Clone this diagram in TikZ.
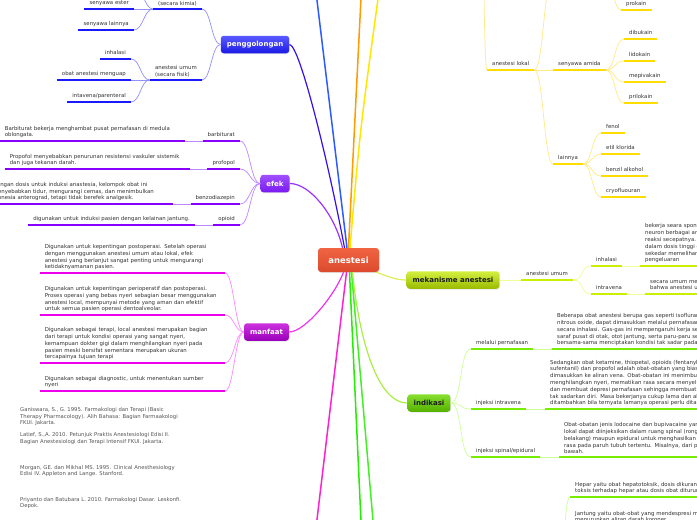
\documentclass[tikz,border=0pt]{standalone}
\usepackage{fontspec}
\setmainfont{DejaVu Sans}
\usepackage{tikz}
\usetikzlibrary{shadows}

\definecolor{txt}{HTML}{333333}
\definecolor{refgray}{HTML}{555555}
\definecolor{dark}{HTML}{1A1A1A}
\definecolor{rootA}{HTML}{F06442}
\definecolor{rootB}{HTML}{DC4A2E}
\definecolor{pgA}{HTML}{5A5AFF}
\definecolor{pgB}{HTML}{1A1AE6}
\definecolor{efA}{HTML}{A050FF}
\definecolor{efB}{HTML}{7A1AF0}
\definecolor{mfA}{HTML}{CC33DD}
\definecolor{mfB}{HTML}{9900BB}
\definecolor{mkA}{HTML}{D4F040}
\definecolor{mkB}{HTML}{99BB00}
\definecolor{inA}{HTML}{88E030}
\definecolor{inB}{HTML}{55B000}
% branch lines
\definecolor{blueUp}{HTML}{2E5BFF}
\definecolor{orangeUp}{HTML}{FF9A00}
\definecolor{yellowUp}{HTML}{FFE800}
\definecolor{pgLine}{HTML}{3311EE}
\definecolor{efLine}{HTML}{9933FF}
\definecolor{mfLine}{HTML}{EE33EE}
\definecolor{magentaDn}{HTML}{FF22CC}
\definecolor{greenDn}{HTML}{22EE00}
\definecolor{indLine}{HTML}{AAEE44}
\definecolor{mekLine}{HTML}{DDEE55}
% underlines and links
\definecolor{pgU}{HTML}{1A1AFF}
\definecolor{pgL}{HTML}{9090FF}
\definecolor{efU}{HTML}{8800FF}
\definecolor{efL}{HTML}{BB88FF}
\definecolor{mfU}{HTML}{EE00EE}
\definecolor{mfL}{HTML}{FF88FF}
\definecolor{ylU}{HTML}{FFDD00}
\definecolor{ylL}{HTML}{FFEB85}
\definecolor{mkU}{HTML}{CCEE00}
\definecolor{mkL}{HTML}{EEFF99}
\definecolor{inU}{HTML}{77EE00}
\definecolor{inL}{HTML}{CCFF99}

\newcommand{\itemfont}{\fontsize{5.4}{6.8}\selectfont}

\begin{document}
\begin{tikzpicture}[x=1pt, y=-1pt,
    every node/.style={font=\itemfont, text=txt},
    root/.style={rounded corners=3pt, top color=rootA, bottom color=rootB, text=white,
        minimum width=61pt, minimum height=24pt, font=\fontsize{8.5}{10}\selectfont\bfseries,
        drop shadow={opacity=.2, shadow xshift=.6pt, shadow yshift=-.8pt}},
    topic/.style={rounded corners=3pt, minimum height=17.5pt, inner xsep=6pt, text=white,
        font=\fontsize{7}{8}\selectfont\bfseries,
        drop shadow={opacity=.2, shadow xshift=.6pt, shadow yshift=-.8pt}},
    lbl/.style={inner xsep=5pt, inner ysep=2.8pt, align=left},
    item/.style={inner xsep=5pt, inner ysep=2.8pt, text depth=1.3pt},
    note/.style={lbl, text width=175pt},
    ref/.style={anchor=north west, inner sep=0pt, align=left, text=refgray,
        font=\fontsize{5.3}{6.3}\selectfont},
    hub/.style={line width=1.5pt},
    lk/.style={line width=.7pt},
    ul/.style={line width=2pt},
    br/.style={to path={.. controls +(#1,0) and +({-(#1)},0) .. (\tikztotarget)}}
]
\useasboundingbox (0,0) rectangle (697,520);
\clip (0,0) rectangle (697,520);
\fill[white] (0,0) rectangle (697,520);

% centre and main topics
\node[root] (ans) at (348.5,260) {anestesi};
\node[topic, top color=pgA, bottom color=pgB] (pg) at (255,44.5) {penggolongan};
\node[topic, top color=efA, bottom color=efB] (ef) at (275,183.5) {efek};
\node[topic, top color=mfA, bottom color=mfB] (mf) at (266.5,332) {manfaat};
\node[topic, top color=mkA, bottom color=mkB, text=dark] (mek) at (453,280) {mekanisme anestesi};
\node[topic, top color=inA, bottom color=inB, text=dark] (ind) at (429,403) {indikasi};

% branches leaving the picture
\coordinate (upBlue) at (315.5,-12);
\coordinate (upOrange) at (361.5,-12);
\coordinate (upYellow) at (379.5,-12);
\coordinate (dnMagenta) at (315.5,532);
\coordinate (dnGreenA) at (361.5,532);
\coordinate (dnGreenB) at (374,532);

\draw[hub, blueUp] ([xshift=-1.5pt]ans.north) -- (upBlue);
\draw[hub, orangeUp] (ans.north) -- (upOrange);
\draw[hub, yellowUp] ([xshift=1.5pt]ans.north) .. controls (360,130) .. (upYellow);
\draw[hub, line width=1.2pt, pgLine] ([xshift=-4pt]ans.north) .. controls (330,170) and (300,44.5) .. (pg.east);
\draw[hub, line width=1.2pt, efLine] ([xshift=-6pt]ans.north) .. controls (335,215) and (310,183.5) .. (ef.east);
\draw[hub, line width=1.2pt, mfLine] ([xshift=-5pt]ans.south) .. controls (335,295) and (305,332) .. (mf.east);
\draw[hub, magentaDn] ([xshift=-2pt]ans.south) -- (dnMagenta);
\draw[hub, greenDn] ([xshift=1pt]ans.south) -- (dnGreenA);
\draw[hub, greenDn!85!white] ([xshift=3pt]ans.south) -- (dnGreenB);
\draw[hub, line width=1.2pt, indLine] ([xshift=4pt]ans.south) .. controls (358,330) and (375,403) .. (ind.west);
\draw[hub, line width=1.2pt, mekLine] ([xshift=-3pt]ans.south east) .. controls +(12,4) and +(-12,0) .. (mek.west);

% penggolongan
\node[lbl, anchor=south east] (kimia) at (202,9) {anestesi lokal\\(secara kimia)};
\node[lbl, anchor=south east] (fisik) at (202,80) {anestesi umum\\(secara fisik)};
\coordinate (kimtop) at (134,-14);
\node[item, anchor=south east] (ester) at (134,9) {senyawa ester};
\node[item, anchor=south east] (slain) at (134,30) {senyawa lainnya};
\node[item, anchor=south east] (inhA) at (131,59) {inhalasi};
\node[item, anchor=south east] (menguap) at (131,80) {obat anestesi menguap};
\node[item, anchor=south east] (intav) at (131,102) {intavena/parenteral};

\draw[lk, pgL] (pg.west) to[br=-9] (kimia.south east);
\draw[lk, pgL] (pg.west) to[br=-9] (fisik.south east);
\draw[lk, pgL] (kimia.south west) to[br=-9] (kimtop);
\draw[lk, pgL] (kimia.south west) -- (ester.south east);
\draw[lk, pgL] (kimia.south west) to[br=-9] (slain.south east);
\foreach \n in {inhA,menguap,intav}
  \draw[lk, pgL] (fisik.south west) to[br=-9.5] (\n.south east);
\foreach \n in {kimia,fisik,ester,slain,inhA,menguap,intav}
  \draw[ul, pgU] (\n.south west) -- (\n.south east);

% efek
\node[item, anchor=south east] (barb) at (240,141) {barbiturat};
\node[item, anchor=south east] (prof) at (240,169) {profopol};
\node[item, anchor=south east] (benzo) at (240,204) {benzodiazepin};
\node[item, anchor=south east] (opio) at (240,225) {opioid};
\node[note, anchor=south east] (barbT) at (185,141) {Barbiturat bekerja menghambat pusat pernafasan di medula\\oblongata.};
\node[note, anchor=south east] (profT) at (190,169) {Propofol menyebabkan penurunan resistensi vaskuler sistemik\\dan juga tekanan darah.};
\node[note, anchor=south east] (benzoT) at (173,204) {Dengan dosis untuk induksi anastesia, kelompok obat ini\\menyebabkan tidur, mengurangi cemas, dan menimbulkan\\amnesia anterograd, tetapi tidak berefek analgesik.};
\node[item, anchor=south east] (opioT) at (195,225) {digunakan untuk induksi pasien dengan kelainan jantung.};

\foreach \n in {barb,prof,benzo,opio}{
  \draw[lk, efL] (ef.west) to[br=-10] (\n.south east);
  \draw[lk, efL] (\n.south west) -- (\n T.south east);
}
\foreach \n in {barb,prof,benzo,opio,barbT,profT,benzoT,opioT}
  \draw[ul, efU] (\n.south west) -- (\n.south east);

% manfaat
\node[note, anchor=south east] (mf1) at (225,273) {Digunakan untuk kepentingan postoperasi. Setelah operasi\\dengan menggunakan anestesi umum atau lokal, efek\\anestesi yang berlanjut sangat penting untuk mengurangi\\ketidaknyamanan pasien.};
\node[note, anchor=south east] (mf2) at (225,315) {Digunakan untuk kepentingan perioperatif dan postoperasi.\\Proses operasi yang bebas nyeri sebagian besar menggunakan\\anestesi local, mempunyai metode yang aman dan efektif\\untuk semua pasien operasi dentoalveolar.};
\node[note, anchor=south east] (mf3) at (225,363) {Digunakan sebagai terapi, local anestesi merupakan bagian\\dari terapi untuk kondisi operasi yang sangat nyeri,\\kemampuan dokter gigi dalam menghilangkan nyeri pada\\pasien meski bersifat sementara merupakan ukuran\\tercapainya tujuan terapi};
\node[note, anchor=south east] (mf4) at (225,391) {Digunakan sebagai diagnostic, untuk menentukan sumber\\nyeri};
\foreach \n in {mf1,mf2,mf3,mf4}{
  \draw[lk, mfL] (mf.west) to[br=-9] (\n.south east);
  \draw[ul, mfU] (\n.south west) -- (\n.south east);
}

% daftar pustaka
\node[ref] (r1) at (20,407.5) {Ganiswara, S., G. 1995. Farmakologi dan Terapi (Basic\\Therapy Pharmacology). Alih Bahasa: Bagian Farmaakologi\\FKUI. Jakarta.};
\node[ref] (r2) at (20,432.5) {Latief, S.,A. 2010. Petunjuk Praktis Anestesiologi Edisi II.\\Bagian Anestesiologi dan Terapi Intensif FKUI. Jakarta.};
\node[ref] (r3) at (20,465) {Morgan, GE. dan Mikhal MS. 1995. Clinical Anesthesiology\\Edisi IV. Appleton and Lange. Stanford.};
\node[ref] (r4) at (20,497) {Priyanto dan Batubara L. 2010. Farmakologi Dasar. Leskonfi.\\Depok.};

% anestesi lokal (branch from above)
\coordinate (lokpar) at (480,-150);
\coordinate (esterR) at (553,-24);
\coordinate (esterE) at (605,-24);
\node[item, anchor=south west] (lokal) at (487,70) {anestesi lokal};
\node[item, anchor=south west] (amida) at (553,70) {senyawa amida};
\node[item, anchor=south west] (lainnya) at (553,164) {lainnya};
\node[item, anchor=south west] (prokain) at (621,10) {prokain};
\node[item, anchor=south west] (dibukain) at (624,39) {dibukain};
\node[item, anchor=south west] (lidokain) at (624,61) {lidokain};
\node[item, anchor=south west] (mepivakain) at (624,82) {mepivakain};
\node[item, anchor=south west] (prilokain) at (624,103) {prilokain};
\node[item, anchor=south west] (fenol) at (601,133) {fenol};
\node[item, anchor=south west] (etil) at (601,154) {etil klorida};
\node[item, anchor=south west] (benzil) at (601,176) {benzil alkohol};
\node[item, anchor=south west] (cryo) at (601,197) {cryofluouran};

\draw[lk, ylL] (lokpar) to[br=4] (lokal.south west);
\draw[lk, ylL] (lokal.south east) to[br=9] (esterR);
\draw[lk, ylL] (lokal.south east) -- (amida.south west);
\draw[lk, ylL] (lokal.south east) to[br=9] (lainnya.south west);
\draw[lk, ylL] (esterE) to[br=8] (prokain.south west);
\foreach \n in {dibukain,lidokain,mepivakain,prilokain}
  \draw[lk, ylL] (amida.south east) to[br=9.5] (\n.south west);
\foreach \n in {fenol,etil,benzil,cryo}
  \draw[lk, ylL] (lainnya.south east) to[br=9] (\n.south west);
\foreach \n in {lokal,amida,lainnya,prokain,dibukain,lidokain,mepivakain,prilokain,fenol,etil,benzil,cryo}
  \draw[ul, ylU] (\n.south west) -- (\n.south east);

% mekanisme anestesi
\node[item, anchor=south west] (aum) at (521,280) {anestesi umum};
\node[item, anchor=south west] (inhB) at (591,266) {inhalasi};
\node[item, anchor=south west] (ivB) at (591,294) {intravena};
\node[note, anchor=south west] (inhT) at (640,266) {bekerja seara spontan menekan dan membangkitkan\\neuron berbagai area di dalam otak sebagai\\reaksi secepatnya. Obat ini diberikan\\dalam dosis tinggi dan bukan\\sekedar memelihara anestesi serta\\pengeluaran};
\node[note, anchor=south west] (ivT) at (645,294) {secara umum mekanisme kerjanya sama\\bahwa anestesi umum bekerja di otak};

\draw[lk, mkL] (mek.east) -- (aum.south west);
\draw[lk, mkL] (aum.south east) to[br=11.5] (inhB.south west);
\draw[lk, mkL] (aum.south east) to[br=11.5] (ivB.south west);
\draw[lk, mkL] (inhB.south east) -- (inhT.south west);
\draw[lk, mkL] (ivB.south east) -- (ivT.south west);
\foreach \n in {aum,inhB,ivB,inhT,ivT}
  \draw[ul, mkU] (\n.south west) -- (\n.south east);

% indikasi
\node[item, anchor=south west] (nafas) at (471,349) {melalui pernafasan};
\node[item, anchor=south west] (injiv) at (471,409) {injeksi intravena};
\node[item, anchor=south west] (spinal) at (471,457) {injeksi spinal/epidural};
\node[note, anchor=south west] (nafasT) at (552,349) {Beberapa obat anestesi berupa gas seperti isoflurane dan\\nitrous oxide, dapat dimasukkan melalui pernafasan atau\\secara inhalasi. Gas-gas ini mempengaruhi kerja sel-sel\\saraf pusat di otak, otot jantung, serta paru-paru sehingga\\bersama-sama menciptakan kondisi tak sadar pada pasien.};
\node[note, anchor=south west] (injivT) at (545,409) {Sedangkan obat ketamine, thiopetal, opioids (fentanyl dan\\sufentanil) dan propofol adalah obat-obatan yang biasa\\dimasukkan ke aliran vena. Obat-obatan ini menimbulkan efek\\menghilangkan nyeri, mematikan rasa secara menyeluruh,\\dan membuat depresi pernafasan sehingga membuat pasien\\tak sadarkan diri. Masa bekerjanya cukup lama dan akan\\ditambahkan bila ternyata lamanya operasi perlu ditambah.};
\node[note, anchor=south west] (spinalT) at (559,457) {Obat-obatan jenis lodocaine dan bupivacaine yang\\lokal dapat diinjeksikan dalam ruang spinal (rongga tulang\\belakang) maupun epidural untuk menghasilkan efek mati\\rasa pada paruh tubuh tertentu. Misalnya, dari pinggang ke\\bawah.};

\foreach \n in {nafas,injiv,spinal}{
  \draw[lk, inL] (ind.east) to[br=12] (\n.south west);
  \draw[lk, inL] (\n.south east) -- (\n T.south west);
}
\foreach \n in {nafas,injiv,spinal,nafasT,injivT,spinalT}
  \draw[ul, inU] (\n.south west) -- (\n.south east);

% branch from below
\coordinate (kontra) at (560,548);
\node[note, anchor=south west] (hepar) at (570,497) {Hepar yaitu obat hepatotoksik, dosis dikurangi atau obat yang\\toksis terhadap hepar atau dosis obat diturunkan};
\node[note, anchor=south west] (jantung) at (570,525) {Jantung yaitu obat-obat yang mendespresi miokardium dan\\menurunkan aliran darah koroner};
\foreach \n in {hepar,jantung}{
  \draw[lk, inL] (kontra) to[br=5] (\n.south west);
  \draw[ul, inU] (\n.south west) -- (\n.south east);
}
\end{tikzpicture}
\end{document}
